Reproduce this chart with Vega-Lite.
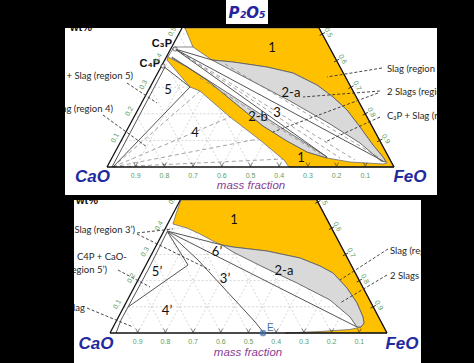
{
"$schema": "https://vega.github.io/schema/vega-lite/v6.json",
"width": 474, "height": 363, "padding": 0, "autosize": {"type": "none"},
"background": "#000000",
"config": {"view": {"stroke": null}},
"datasets": {
"rects": [
{"k":"panel","x":65,"x2":437,"y":28,"y2":195},
{"k":"panel","x":74,"x2":421,"y":200,"y2":363},
{"k":"mask","x":0,"x2":226,"y":0,"y2":28},
{"k":"mask","x":268,"x2":474,"y":0,"y2":28},
{"k":"mask","x":226,"x2":268,"y":24,"y2":28},
{"k":"mask","x":0,"x2":65,"y":28,"y2":195},
{"k":"mask","x":437,"x2":474,"y":28,"y2":195},
{"k":"mask","x":0,"x2":474,"y":195,"y2":200},
{"k":"mask","x":0,"x2":74,"y":200,"y2":363},
{"k":"mask","x":421,"x2":474,"y":200,"y2":363},
{"k":"title","x":226,"x2":268,"y":0,"y2":24}
],
"segs": [
{"k":"grid","x":121.35,"y":140.4,"x2":379.65,"y2":140.4},
{"k":"grid","x":135.7,"y":113.8,"x2":365.3,"y2":113.8},
{"k":"grid","x":150.05,"y":87.2,"x2":350.95,"y2":87.2},
{"k":"grid","x":164.4,"y":60.6,"x2":336.6,"y2":60.6},
{"k":"grid","x":178.75,"y":34,"x2":322.25,"y2":34},
{"k":"grid","x":135.7,"y":167,"x2":210.7,"y2":28},
{"k":"grid","x":164.4,"y":167,"x2":239.4,"y2":28},
{"k":"grid","x":193.1,"y":167,"x2":268.1,"y2":28},
{"k":"grid","x":221.8,"y":167,"x2":296.8,"y2":28},
{"k":"grid","x":250.5,"y":167,"x2":322.25,"y2":34},
{"k":"grid","x":279.2,"y":167,"x2":336.6,"y2":60.6},
{"k":"grid","x":307.9,"y":167,"x2":350.95,"y2":87.2},
{"k":"grid","x":336.6,"y":167,"x2":365.3,"y2":113.8},
{"k":"grid","x":365.3,"y":167,"x2":379.65,"y2":140.4},
{"k":"grid","x":135.7,"y":167,"x2":121.35,"y2":140.4},
{"k":"grid","x":164.4,"y":167,"x2":135.7,"y2":113.8},
{"k":"grid","x":193.1,"y":167,"x2":150.05,"y2":87.2},
{"k":"grid","x":221.8,"y":167,"x2":164.4,"y2":60.6},
{"k":"grid","x":250.5,"y":167,"x2":178.75,"y2":34},
{"k":"grid","x":279.2,"y":167,"x2":204.2,"y2":28},
{"k":"grid","x":307.9,"y":167,"x2":232.9,"y2":28},
{"k":"grid","x":336.6,"y":167,"x2":261.6,"y2":28},
{"k":"grid","x":365.3,"y":167,"x2":290.3,"y2":28},
{"k":"grid","x":123.85,"y":306.8,"x2":373.15,"y2":306.8},
{"k":"grid","x":137.7,"y":280.6,"x2":359.3,"y2":280.6},
{"k":"grid","x":151.55,"y":254.4,"x2":345.45,"y2":254.4},
{"k":"grid","x":165.4,"y":228.2,"x2":331.6,"y2":228.2},
{"k":"grid","x":179.25,"y":202,"x2":317.75,"y2":202},
{"k":"grid","x":137.7,"y":333,"x2":208,"y2":200},
{"k":"grid","x":165.4,"y":333,"x2":235.7,"y2":200},
{"k":"grid","x":193.1,"y":333,"x2":263.4,"y2":200},
{"k":"grid","x":220.8,"y":333,"x2":291.1,"y2":200},
{"k":"grid","x":248.5,"y":333,"x2":317.75,"y2":202},
{"k":"grid","x":276.2,"y":333,"x2":331.6,"y2":228.2},
{"k":"grid","x":303.9,"y":333,"x2":345.45,"y2":254.4},
{"k":"grid","x":331.6,"y":333,"x2":359.3,"y2":280.6},
{"k":"grid","x":359.3,"y":333,"x2":373.15,"y2":306.8},
{"k":"grid","x":137.7,"y":333,"x2":123.85,"y2":306.8},
{"k":"grid","x":165.4,"y":333,"x2":137.7,"y2":280.6},
{"k":"grid","x":193.1,"y":333,"x2":151.55,"y2":254.4},
{"k":"grid","x":220.8,"y":333,"x2":165.4,"y2":228.2},
{"k":"grid","x":248.5,"y":333,"x2":179.25,"y2":202},
{"k":"grid","x":276.2,"y":333,"x2":205.9,"y2":200},
{"k":"grid","x":303.9,"y":333,"x2":233.6,"y2":200},
{"k":"grid","x":331.6,"y":333,"x2":261.3,"y2":200},
{"k":"grid","x":359.3,"y":333,"x2":289,"y2":200},
{"k":"tie","x":113,"y":167,"x2":200,"y2":91},
{"k":"tie","x":113,"y":167,"x2":230,"y2":117},
{"k":"tie","x":113,"y":167,"x2":258,"y2":139},
{"k":"tie","x":113,"y":167,"x2":283,"y2":159},
{"k":"tie","x":175,"y":49,"x2":355,"y2":160},
{"k":"tie","x":175,"y":49,"x2":340,"y2":158},
{"k":"tie","x":225,"y":64,"x2":378,"y2":157},
{"k":"tie","x":200,"y":78,"x2":320,"y2":154},
{"k":"solid","x":175,"y":49,"x2":383,"y2":161},
{"k":"solid","x":175,"y":49,"x2":327,"y2":157},
{"k":"solid","x":175,"y":49,"x2":212,"y2":60},
{"k":"solid","x":163,"y":66,"x2":190,"y2":87},
{"k":"solid","x":113,"y":167,"x2":190,"y2":87},
{"k":"solid","x":112,"y":167,"x2":165,"y2":67},
{"k":"solid","x":167,"y":231,"x2":357,"y2":327},
{"k":"solid","x":167,"y":231,"x2":222,"y2":245},
{"k":"solid","x":167,"y":231,"x2":188,"y2":265},
{"k":"solid","x":188,"y":265,"x2":128,"y2":307},
{"k":"edge","x":107,"y":167,"x2":394,"y2":167},
{"k":"edge","x":107,"y":167,"x2":182,"y2":28},
{"k":"edge","x":394,"y":167,"x2":319,"y2":28},
{"k":"edge","x":110,"y":333,"x2":387,"y2":333},
{"k":"edge","x":110,"y":333,"x2":180.3,"y2":200},
{"k":"edge","x":387,"y":333,"x2":316.7,"y2":200},
{"k":"rtick","x":377.05,"y":141.8,"x2":382.25,"y2":139},
{"k":"rtick","x":362.7,"y":115.2,"x2":367.9,"y2":112.4},
{"k":"rtick","x":348.35,"y":88.6,"x2":353.55,"y2":85.8},
{"k":"rtick","x":334,"y":62,"x2":339.2,"y2":59.2},
{"k":"rtick","x":319.65,"y":35.4,"x2":324.85,"y2":32.6},
{"k":"rtick","x":370.55,"y":308.2,"x2":375.75,"y2":305.4},
{"k":"rtick","x":356.7,"y":282,"x2":361.9,"y2":279.2},
{"k":"rtick","x":342.85,"y":255.8,"x2":348.05,"y2":253},
{"k":"rtick","x":329,"y":229.6,"x2":334.2,"y2":226.8},
{"k":"rtick","x":315.15,"y":203.4,"x2":320.35,"y2":200.6},
{"k":"leader","x":127,"y":83,"x2":157,"y2":103},
{"k":"leader","x":103,"y":115,"x2":147,"y2":147},
{"k":"leader","x":382,"y":68,"x2":327,"y2":77},
{"k":"leader","x":380,"y":91,"x2":303,"y2":97},
{"k":"leader","x":378,"y":93,"x2":273,"y2":132},
{"k":"leader","x":380,"y":117,"x2":325,"y2":142},
{"k":"leader","x":137,"y":233,"x2":173,"y2":229},
{"k":"leader","x":137,"y":234,"x2":210,"y2":270},
{"k":"leader","x":118,"y":270,"x2":150,"y2":287},
{"k":"leader","x":87,"y":308,"x2":133,"y2":327},
{"k":"leader","x":388,"y":249,"x2":340,"y2":280},
{"k":"leader","x":387,"y":275,"x2":340,"y2":303}
],
"polys": [
{"k":"yellow","id":"ty","o":1,"x":184,"y":28},
{"k":"yellow","id":"ty","o":2,"x":319,"y":28},
{"k":"yellow","id":"ty","o":3,"x":394,"y":167},
{"k":"yellow","id":"ty","o":4,"x":289,"y":167},
{"k":"yellow","id":"ty","o":5,"x":284,"y":160},
{"k":"yellow","id":"ty","o":6,"x":260,"y":140},
{"k":"yellow","id":"ty","o":7,"x":230,"y":117},
{"k":"yellow","id":"ty","o":8,"x":200,"y":91},
{"k":"yellow","id":"ty","o":9,"x":190,"y":87},
{"k":"yellow","id":"ty","o":10,"x":167,"y":60},
{"k":"yellow","id":"ty","o":11,"x":168,"y":56},
{"k":"yellow","id":"ty","o":12,"x":180,"y":50},
{"k":"yellow","id":"ty","o":13,"x":193,"y":47},
{"k":"yellow","id":"ty","o":14,"x":185,"y":28},
{"k":"yellow","id":"by","o":1,"x":181,"y":200},
{"k":"yellow","id":"by","o":2,"x":317,"y":200},
{"k":"yellow","id":"by","o":3,"x":387,"y":333},
{"k":"yellow","id":"by","o":4,"x":285,"y":333},
{"k":"yellow","id":"by","o":5,"x":320,"y":331.5},
{"k":"yellow","id":"by","o":6,"x":350,"y":329.5},
{"k":"yellow","id":"by","o":7,"x":361,"y":327},
{"k":"yellow","id":"by","o":8,"x":364,"y":323},
{"k":"yellow","id":"by","o":9,"x":363,"y":317},
{"k":"yellow","id":"by","o":10,"x":357,"y":303},
{"k":"yellow","id":"by","o":11,"x":347,"y":288},
{"k":"yellow","id":"by","o":12,"x":333,"y":273},
{"k":"yellow","id":"by","o":13,"x":320,"y":266},
{"k":"yellow","id":"by","o":14,"x":300,"y":258},
{"k":"yellow","id":"by","o":15,"x":267,"y":251},
{"k":"yellow","id":"by","o":16,"x":233,"y":247},
{"k":"yellow","id":"by","o":17,"x":222,"y":245},
{"k":"yellow","id":"by","o":18,"x":213,"y":241},
{"k":"yellow","id":"by","o":19,"x":200,"y":234},
{"k":"yellow","id":"by","o":20,"x":187,"y":228},
{"k":"yellow","id":"by","o":21,"x":173,"y":224},
{"k":"yellow","id":"by","o":22,"x":176,"y":214},
{"k":"white","id":"tm","o":1,"x":174,"y":47},
{"k":"white","id":"tm","o":2,"x":193,"y":47},
{"k":"white","id":"tm","o":3,"x":212,"y":60},
{"k":"white","id":"tm","o":4,"x":233,"y":62},
{"k":"white","id":"tm","o":5,"x":267,"y":67},
{"k":"white","id":"tm","o":6,"x":293,"y":73},
{"k":"white","id":"tm","o":7,"x":317,"y":85},
{"k":"white","id":"tm","o":8,"x":333,"y":97},
{"k":"white","id":"tm","o":9,"x":347,"y":110},
{"k":"white","id":"tm","o":10,"x":360,"y":127},
{"k":"white","id":"tm","o":11,"x":373,"y":145},
{"k":"white","id":"tm","o":12,"x":383,"y":157},
{"k":"white","id":"tm","o":13,"x":387,"y":163},
{"k":"white","id":"tm","o":14,"x":383,"y":164},
{"k":"white","id":"tm","o":15,"x":350,"y":162},
{"k":"white","id":"tm","o":16,"x":327,"y":158},
{"k":"white","id":"tm","o":17,"x":307,"y":152},
{"k":"white","id":"tm","o":18,"x":287,"y":141},
{"k":"white","id":"tm","o":19,"x":263,"y":126},
{"k":"white","id":"tm","o":20,"x":230,"y":99},
{"k":"white","id":"tm","o":21,"x":207,"y":80},
{"k":"white","id":"tm","o":22,"x":187,"y":67},
{"k":"white","id":"tm","o":23,"x":168,"y":57},
{"k":"gray","id":"ta","o":1,"x":212,"y":60},
{"k":"gray","id":"ta","o":2,"x":233,"y":62},
{"k":"gray","id":"ta","o":3,"x":267,"y":67},
{"k":"gray","id":"ta","o":4,"x":293,"y":73},
{"k":"gray","id":"ta","o":5,"x":317,"y":85},
{"k":"gray","id":"ta","o":6,"x":333,"y":97},
{"k":"gray","id":"ta","o":7,"x":347,"y":110},
{"k":"gray","id":"ta","o":8,"x":360,"y":127},
{"k":"gray","id":"ta","o":9,"x":373,"y":145},
{"k":"gray","id":"ta","o":10,"x":383,"y":157},
{"k":"gray","id":"ta","o":11,"x":386,"y":162},
{"k":"gray","id":"ta","o":12,"x":381,"y":161},
{"k":"gray","id":"ta","o":13,"x":360,"y":143},
{"k":"gray","id":"ta","o":14,"x":330,"y":124},
{"k":"gray","id":"ta","o":15,"x":290,"y":101},
{"k":"gray","id":"ta","o":16,"x":250,"y":80},
{"k":"gray","id":"tb","o":1,"x":172,"y":57},
{"k":"gray","id":"tb","o":2,"x":207,"y":79.6},
{"k":"gray","id":"tb","o":3,"x":250,"y":107.4},
{"k":"gray","id":"tb","o":4,"x":290,"y":133.2},
{"k":"gray","id":"tb","o":5,"x":327,"y":157},
{"k":"gray","id":"tb","o":6,"x":327,"y":158},
{"k":"gray","id":"tb","o":7,"x":307,"y":152},
{"k":"gray","id":"tb","o":8,"x":287,"y":141},
{"k":"gray","id":"tb","o":9,"x":263,"y":126},
{"k":"gray","id":"tb","o":10,"x":230,"y":99},
{"k":"gray","id":"tb","o":11,"x":207,"y":80},
{"k":"gray","id":"tb","o":12,"x":187,"y":67},
{"k":"gray","id":"tb","o":13,"x":172,"y":58},
{"k":"gray","id":"ba","o":1,"x":222,"y":245},
{"k":"gray","id":"ba","o":2,"x":233,"y":247},
{"k":"gray","id":"ba","o":3,"x":267,"y":251},
{"k":"gray","id":"ba","o":4,"x":300,"y":258},
{"k":"gray","id":"ba","o":5,"x":320,"y":266},
{"k":"gray","id":"ba","o":6,"x":333,"y":273},
{"k":"gray","id":"ba","o":7,"x":347,"y":288},
{"k":"gray","id":"ba","o":8,"x":357,"y":303},
{"k":"gray","id":"ba","o":9,"x":363,"y":317},
{"k":"gray","id":"ba","o":10,"x":364,"y":323},
{"k":"gray","id":"ba","o":11,"x":361,"y":327},
{"k":"gray","id":"ba","o":12,"x":357,"y":327},
{"k":"gray","id":"ba","o":13,"x":350,"y":317},
{"k":"gray","id":"ba","o":14,"x":330,"y":300},
{"k":"gray","id":"ba","o":15,"x":297,"y":283},
{"k":"gray","id":"ba","o":16,"x":263,"y":267},
{"k":"gray","id":"ba","o":17,"x":233,"y":252}
],
"paths": [
{"id":"c","o":1,"x":167,"y":231},
{"id":"c","o":2,"x":183,"y":246},
{"id":"c","o":3,"x":198,"y":260},
{"id":"c","o":4,"x":210,"y":273},
{"id":"c","o":5,"x":222,"y":286},
{"id":"c","o":6,"x":234,"y":299},
{"id":"c","o":7,"x":246,"y":312},
{"id":"c","o":8,"x":256,"y":323},
{"id":"c","o":9,"x":263,"y":332},
{"id":"d","o":1,"x":116,"y":333},
{"id":"d","o":2,"x":121,"y":320},
{"id":"d","o":3,"x":128,"y":307},
{"id":"d","o":4,"x":148,"y":270},
{"id":"d","o":5,"x":167,"y":232}
],
"pts": [
{"k":"phase","x":175,"y":49},
{"k":"phase","x":163,"y":66},
{"k":"E","x":263,"y":333}
],
"ticks": [
{"x":135.7,"y":164.5},{"x":164.4,"y":164.5},{"x":193.1,"y":164.5},{"x":221.8,"y":164.5},{"x":250.5,"y":164.5},{"x":279.2,"y":164.5},{"x":307.9,"y":164.5},{"x":336.6,"y":164.5},{"x":365.3,"y":164.5},
{"x":137.7,"y":330.5},{"x":165.4,"y":330.5},{"x":193.1,"y":330.5},{"x":220.8,"y":330.5},{"x":248.5,"y":330.5},{"x":276.2,"y":330.5},{"x":303.9,"y":330.5},{"x":331.6,"y":330.5},{"x":359.3,"y":330.5}
],
"texts": [
{"k":"reg","t":"1","x":272,"y":48},
{"k":"reg","t":"2-a","x":291,"y":93},
{"k":"reg","t":"3","x":277,"y":113},
{"k":"reg","t":"2-b","x":258,"y":117},
{"k":"reg","t":"4","x":195,"y":133},
{"k":"reg","t":"5","x":168,"y":90},
{"k":"reg","t":"1","x":301,"y":158},
{"k":"reg","t":"1","x":234,"y":220},
{"k":"reg","t":"6’","x":217,"y":252},
{"k":"reg","t":"2-a","x":284,"y":271},
{"k":"reg","t":"5’","x":157,"y":272},
{"k":"reg","t":"3’","x":225,"y":279},
{"k":"reg","t":"4’","x":167,"y":311},
{"k":"annR","t":"CaO-ss + Slag (region 5)","x":133,"y":76},
{"k":"annR","t":"CaO + Slag (region 4)","x":113,"y":109},
{"k":"annR","t":"C₄P + Slag (region 3’)","x":135,"y":230},
{"k":"annR","t":"ss + Slag (region 5’)","x":107,"y":270},
{"k":"annR","t":"CaO + Slag","x":85,"y":308},
{"k":"annL","t":"Slag (region 1)","x":387,"y":69},
{"k":"annL","t":"2 Slags (region 2)","x":387,"y":92},
{"k":"annL","t":"C₃P + Slag (region 3)","x":387,"y":116},
{"k":"annL","t":"C4P + CaO-","x":77,"y":257},
{"k":"annL","t":"Slag (region 1)","x":390,"y":251},
{"k":"annL","t":"2 Slags (region 2)","x":390,"y":276},
{"k":"phase","t":"C₃P","x":172,"y":44},
{"k":"phase","t":"C₄P","x":160,"y":64},
{"k":"tickL","t":"0.1","x":115,"y":138},
{"k":"tickL","t":"0.2","x":129.3,"y":111.4},
{"k":"tickL","t":"0.3","x":143.6,"y":84.8},
{"k":"tickL","t":"0.4","x":158,"y":58.2},
{"k":"tickL","t":"0.5","x":172.3,"y":31.6},
{"k":"tickL","t":"0.1","x":117.4,"y":304.4},
{"k":"tickL","t":"0.2","x":131.3,"y":278.2},
{"k":"tickL","t":"0.3","x":145.2,"y":252},
{"k":"tickL","t":"0.4","x":159,"y":225.8},
{"k":"tickL","t":"0.5","x":172.9,"y":199.6},
{"k":"tickR","t":"0.9","x":385.7,"y":139},
{"k":"tickR","t":"0.8","x":371.3,"y":112.4},
{"k":"tickR","t":"0.7","x":357,"y":85.8},
{"k":"tickR","t":"0.6","x":342.6,"y":59.2},
{"k":"tickR","t":"0.5","x":328.3,"y":32.6},
{"k":"tickR","t":"0.9","x":378.7,"y":305.3},
{"k":"tickR","t":"0.8","x":364.8,"y":279.1},
{"k":"tickR","t":"0.7","x":351,"y":252.9},
{"k":"tickR","t":"0.6","x":337.1,"y":226.7},
{"k":"tickR","t":"0.5","x":323.3,"y":200.5},
{"k":"tickB","t":"0.9","x":135.7,"y":176},
{"k":"tickB","t":"0.8","x":164.4,"y":176},
{"k":"tickB","t":"0.7","x":193.1,"y":176},
{"k":"tickB","t":"0.6","x":221.8,"y":176},
{"k":"tickB","t":"0.5","x":250.5,"y":176},
{"k":"tickB","t":"0.4","x":279.2,"y":176},
{"k":"tickB","t":"0.3","x":307.9,"y":176},
{"k":"tickB","t":"0.2","x":336.6,"y":176},
{"k":"tickB","t":"0.1","x":365.3,"y":176},
{"k":"tickB","t":"0.9","x":137.7,"y":342},
{"k":"tickB","t":"0.8","x":165.4,"y":342},
{"k":"tickB","t":"0.7","x":193.1,"y":342},
{"k":"tickB","t":"0.6","x":220.8,"y":342},
{"k":"tickB","t":"0.5","x":248.5,"y":342},
{"k":"tickB","t":"0.4","x":276.2,"y":342},
{"k":"tickB","t":"0.3","x":303.9,"y":342},
{"k":"tickB","t":"0.2","x":331.6,"y":342},
{"k":"tickB","t":"0.1","x":359.3,"y":342},
{"k":"axis","t":"CaO","x":92.5,"y":177},
{"k":"axis","t":"FeO","x":410,"y":177},
{"k":"axis","t":"CaO","x":96,"y":344},
{"k":"axis","t":"FeO","x":402,"y":344},
{"k":"mf","t":"mass fraction","x":251,"y":186},
{"k":"mf","t":"mass fraction","x":248,"y":353},
{"k":"E","t":"E","x":267,"y":328},
{"k":"wt","t":"wt%","x":70,"y":31},
{"k":"wt","t":"wt%","x":76,"y":204},
{"k":"title","t":"P₂O₅","x":247,"y":13}
]
},
"encoding": {
"x": {"field":"x","type":"quantitative","scale":{"domain":[0,474],"nice":false,"zero":false},"axis":null},
"y": {"field":"y","type":"quantitative","scale":{"domain":[0,363],"nice":false,"zero":false,"reverse":true},"axis":null}
},
"layer": [
{"data":{"name":"rects"},"transform":[{"filter":"datum.k=='panel'"}],"mark":{"type":"rect","fill":"#FFFFFF"},"encoding":{"x2":{"field":"x2"},"y2":{"field":"y2"}}},
{"data":{"name":"segs"},"transform":[{"filter":"datum.k=='grid'"}],"mark":{"type":"rule","stroke":"#C4C4C4","strokeWidth":0.7,"strokeDash":[2,2]},"encoding":{"x2":{"field":"x2"},"y2":{"field":"y2"}}},
{"data":{"name":"polys"},"transform":[{"filter":"datum.k=='yellow'"}],"mark":{"type":"line","interpolate":"linear-closed","fill":"#FFC000","stroke":"#6E6E6E","strokeWidth":0.8},"encoding":{"order":{"field":"o","type":"quantitative"},"detail":{"field":"id"}}},
{"data":{"name":"polys"},"transform":[{"filter":"datum.k=='white'"}],"mark":{"type":"line","interpolate":"linear-closed","fill":"#FFFFFF","stroke":"#6E6E6E","strokeWidth":0.8},"encoding":{"order":{"field":"o","type":"quantitative"},"detail":{"field":"id"}}},
{"data":{"name":"polys"},"transform":[{"filter":"datum.k=='gray'"}],"mark":{"type":"line","interpolate":"linear-closed","fill":"#D9D9D9","stroke":"#5E5E5E","strokeWidth":0.9},"encoding":{"order":{"field":"o","type":"quantitative"},"detail":{"field":"id"}}},
{"data":{"name":"segs"},"transform":[{"filter":"datum.k=='tie'"}],"mark":{"type":"rule","stroke":"#8C8C8C","strokeWidth":0.8,"strokeDash":[4,3]},"encoding":{"x2":{"field":"x2"},"y2":{"field":"y2"}}},
{"data":{"name":"segs"},"transform":[{"filter":"datum.k=='solid'"}],"mark":{"type":"rule","stroke":"#555555","strokeWidth":1},"encoding":{"x2":{"field":"x2"},"y2":{"field":"y2"}}},
{"data":{"name":"paths"},"mark":{"type":"line","stroke":"#555555","strokeWidth":1},"encoding":{"order":{"field":"o","type":"quantitative"},"detail":{"field":"id"}}},
{"data":{"name":"segs"},"transform":[{"filter":"datum.k=='edge'"}],"mark":{"type":"rule","stroke":"#111111","strokeWidth":1.3},"encoding":{"x2":{"field":"x2"},"y2":{"field":"y2"}}},
{"data":{"name":"segs"},"transform":[{"filter":"datum.k=='rtick'"}],"mark":{"type":"rule","stroke":"#222222","strokeWidth":0.9},"encoding":{"x2":{"field":"x2"},"y2":{"field":"y2"}}},
{"data":{"name":"segs"},"transform":[{"filter":"datum.k=='leader'"}],"mark":{"type":"rule","stroke":"#333333","strokeWidth":0.9,"strokeDash":[3,2]},"encoding":{"x2":{"field":"x2"},"y2":{"field":"y2"}}},
{"data":{"name":"ticks"},"mark":{"type":"point","shape":"M-1,-1L0,1L1,-1","size":14,"filled":false,"stroke":"#222222","strokeWidth":0.8}},
{"data":{"name":"pts"},"transform":[{"filter":"datum.k=='phase'"}],"mark":{"type":"point","shape":"circle","size":18,"filled":true,"fill":"#FFFFFF","stroke":"#222222","strokeWidth":0.9}},
{"data":{"name":"pts"},"transform":[{"filter":"datum.k=='E'"}],"mark":{"type":"point","shape":"circle","size":22,"filled":true,"fill":"#3F6FAF","stroke":"#3F6FAF"}},
{"data":{"name":"texts"},"transform":[{"filter":"datum.k=='reg'"}],"mark":{"type":"text","font":"Lato","fontSize":13,"color":"#111111","align":"center","baseline":"middle"},"encoding":{"text":{"field":"t"}}},
{"data":{"name":"texts"},"transform":[{"filter":"datum.k=='annR'"}],"mark":{"type":"text","font":"Lato","fontSize":9.5,"color":"#262626","align":"right","baseline":"middle"},"encoding":{"text":{"field":"t"}}},
{"data":{"name":"texts"},"transform":[{"filter":"datum.k=='annL'"}],"mark":{"type":"text","font":"Lato","fontSize":9.5,"color":"#262626","align":"left","baseline":"middle"},"encoding":{"text":{"field":"t"}}},
{"data":{"name":"texts"},"transform":[{"filter":"datum.k=='phase'"}],"mark":{"type":"text","font":"Liberation Sans","fontSize":11,"fontWeight":"bold","color":"#111111","align":"right","baseline":"middle"},"encoding":{"text":{"field":"t"}}},
{"data":{"name":"texts"},"transform":[{"filter":"datum.k=='tickL'"}],"mark":{"type":"text","font":"Liberation Sans","fontSize":7,"color":"#5E9E64","align":"center","baseline":"middle","angle":-61},"encoding":{"text":{"field":"t"}}},
{"data":{"name":"texts"},"transform":[{"filter":"datum.k=='tickR'"}],"mark":{"type":"text","font":"Liberation Sans","fontSize":7,"color":"#5E9E64","align":"center","baseline":"middle","angle":61},"encoding":{"text":{"field":"t"}}},
{"data":{"name":"texts"},"transform":[{"filter":"datum.k=='tickB'"}],"mark":{"type":"text","font":"Liberation Sans","fontSize":7,"color":"#5E9E64","align":"center","baseline":"middle"},"encoding":{"text":{"field":"t"}}},
{"data":{"name":"texts"},"transform":[{"filter":"datum.k=='wt'"}],"mark":{"type":"text","font":"Liberation Sans","fontSize":11,"fontWeight":"bold","color":"#111111","align":"left","baseline":"alphabetic"},"encoding":{"text":{"field":"t"}}},
{"data":{"name":"rects"},"transform":[{"filter":"datum.k=='mask'"}],"mark":{"type":"rect","fill":"#000000"},"encoding":{"x2":{"field":"x2"},"y2":{"field":"y2"}}},
{"data":{"name":"rects"},"transform":[{"filter":"datum.k=='title'"}],"mark":{"type":"rect","fill":"#FFFFFF"},"encoding":{"x2":{"field":"x2"},"y2":{"field":"y2"}}},
{"data":{"name":"texts"},"transform":[{"filter":"datum.k=='title'"}],"mark":{"type":"text","font":"DejaVu Sans","fontSize":15,"fontWeight":"bold","fontStyle":"italic","color":"#2424A0","align":"center","baseline":"middle"},"encoding":{"text":{"field":"t"}}},
{"data":{"name":"texts"},"transform":[{"filter":"datum.k=='axis'"}],"mark":{"type":"text","font":"Liberation Sans","fontSize":17,"fontWeight":"bold","fontStyle":"italic","color":"#1F2A9E","align":"center","baseline":"middle"},"encoding":{"text":{"field":"t"}}},
{"data":{"name":"texts"},"transform":[{"filter":"datum.k=='mf'"}],"mark":{"type":"text","font":"Liberation Sans","fontSize":11.5,"fontStyle":"italic","color":"#8A3C96","align":"center","baseline":"middle"},"encoding":{"text":{"field":"t"}}},
{"data":{"name":"texts"},"transform":[{"filter":"datum.k=='E'"}],"mark":{"type":"text","font":"Liberation Sans","fontSize":10,"color":"#3F6FAF","align":"left","baseline":"middle"},"encoding":{"text":{"field":"t"}}}
]
}
